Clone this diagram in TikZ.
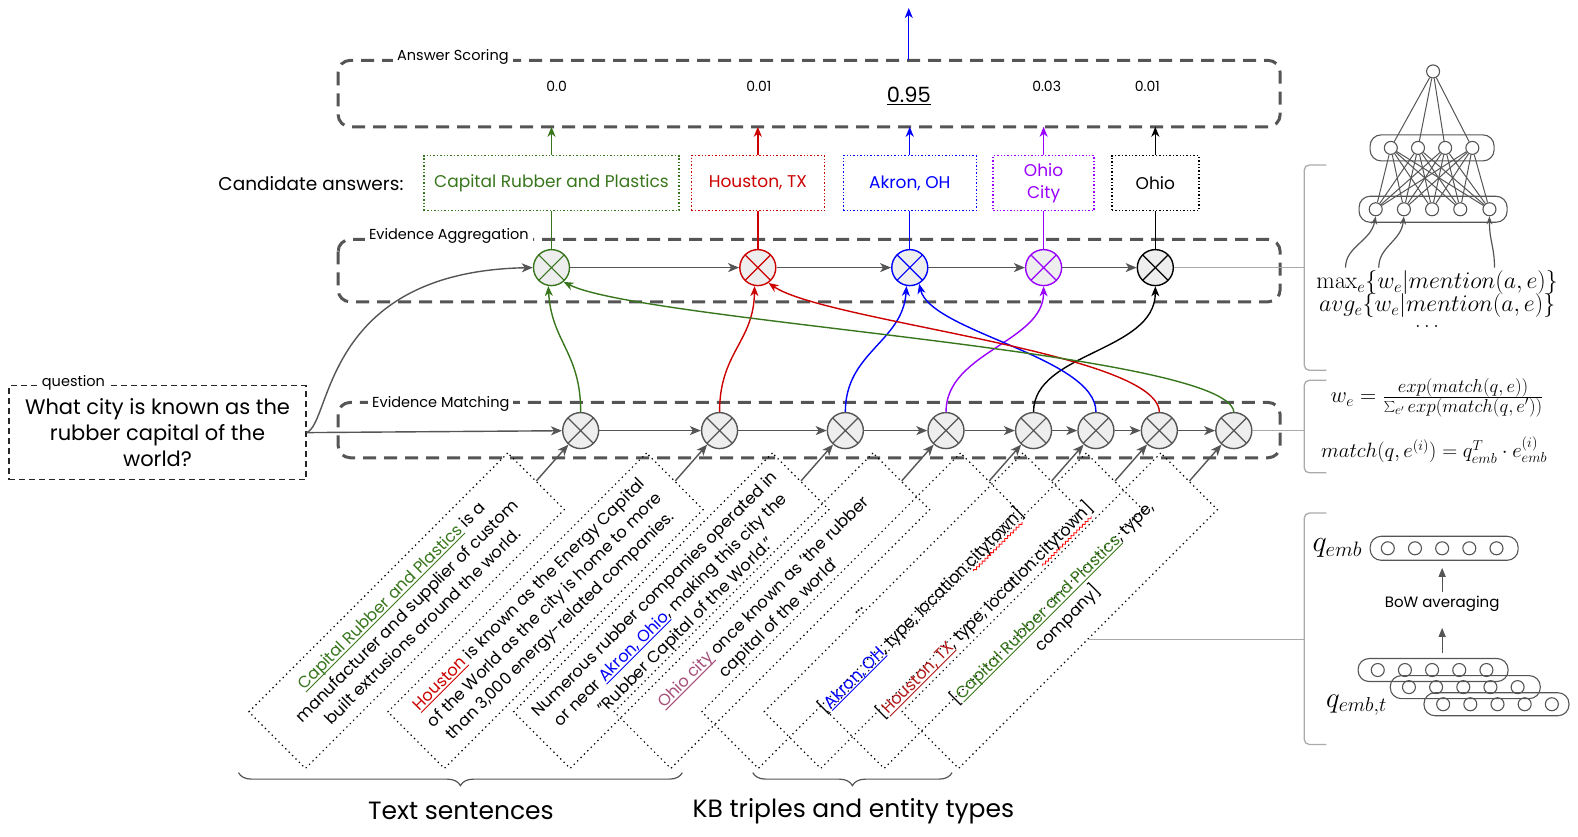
\documentclass[tikz,border=0pt]{standalone}
\usepackage[no-math]{fontspec}
\setmainfont{Poppins}
\usetikzlibrary{arrows.meta,calc,decorations.pathreplacing,decorations.pathmorphing}
\definecolor{cgreen}{HTML}{38761D}
\definecolor{cred}{HTML}{CC0000}
\definecolor{cdred}{HTML}{B01818}
\definecolor{cblue}{HTML}{0000FF}
\definecolor{cpurple}{HTML}{9900FF}
\definecolor{cmauve}{HTML}{A64D79}
\definecolor{dgray}{HTML}{555555}
\definecolor{lgray}{HTML}{AAAAAA}
\definecolor{cfill}{HTML}{EEEEEE}
\newsavebox{\ulbox}
\newcommand{\cul}[2]{{\color{#1}\sbox{\ulbox}{#2}\rlap{\rule[-2.6pt]{\wd\ulbox}{0.9pt}}\usebox{\ulbox}}}
\newsavebox{\wavebox}
\newcommand{\redwave}[1]{\sbox{\wavebox}{#1}\usebox{\wavebox}\llap{\begin{tikzpicture}[reset cm,x=1pt,y=1pt,baseline=0pt]\draw[red,solid,line width=0.8pt,decorate,decoration={snake,amplitude=1.1pt,segment length=4pt}] (0pt,-3.5pt) -- (\wd\wavebox,-3.5pt);\end{tikzpicture}}}
\newcommand{\fr}[1]{\mbox{\fontsize{17}{20}\selectfont$#1$}}
\begin{document}
\begin{tikzpicture}[x=1.00638pt,y=-1.00602pt,
  bigbox/.style={draw=dgray,line width=3pt,dash pattern=on 13pt off 8pt,rounded corners=12pt},
  boxlabel/.style={fill=white,inner sep=4pt,font=\fontsize{14.5}{17}\selectfont},
  xc/.style={circle,draw=#1,fill=cfill,line width=1.4pt,minimum size=36pt,inner sep=0pt,
    path picture={\draw[#1,line width=1.2pt]
      ($(path picture bounding box.center)+(45:18pt)$) -- ($(path picture bounding box.center)+(225:18pt)$)
      ($(path picture bounding box.center)+(135:18pt)$) -- ($(path picture bounding box.center)+(315:18pt)$);}},
  garrow/.style={draw=dgray,line width=1.4pt,-{Stealth[length=11pt,width=9pt,inset=3pt]}},
  carrow/.style={draw=#1,line width=1.4pt,-{Stealth[length=10pt,width=8pt,inset=3pt]}},
  cline/.style={draw=#1,line width=1.4pt},
  cand/.style={draw=#1,text=#1,dotted,line width=1.4pt,minimum height=55pt,inner sep=3pt,align=center,font=\fontsize{17}{22}\selectfont},
  score/.style={font=\fontsize{14}{16}\selectfont},
  rbox/.style={draw=black,dash pattern=on 1.3pt off 3.5pt,line width=1.2pt,rotate=45,anchor=east,minimum width=366pt,minimum height=80pt,inner sep=0pt,align=center,font=\fontsize{16.3}{22}\selectfont},
  brk/.style={draw=lgray,line width=1.3pt,rounded corners=5pt},
  nn/.style={circle,draw=dgray,line width=1.1pt,minimum size=13pt,inner sep=0pt},
  pill/.style={draw=dgray,line width=1.1pt,rounded corners=11pt,inner sep=0pt},
  nline/.style={draw=dgray,line width=1pt},
  narrow/.style={draw=dgray,line width=1.2pt,-{Stealth[length=8pt,width=6pt,inset=2pt]}},
  barrow/.style={draw=dgray,line width=1.3pt,-{Triangle[length=9pt,width=7pt]}},
  bracestyle/.style={draw=dgray,line width=1.2pt,decorate,decoration={brace,mirror,amplitude=13pt}},
  fml/.style={font=\fontsize{20}{24}\selectfont},
]
\useasboundingbox (0,0) rectangle (1568,831);
% ---------- dashed stage boxes
\draw[bigbox] (336,60) rectangle (1272,126);
\draw[bigbox] (336,238) rectangle (1272,300);
\draw[bigbox] (336,400) rectangle (1272,455);
\node[boxlabel] (lAS) at (450,57) {Answer Scoring};
\node[boxlabel] (lEA) at (446,235) {Evidence Aggregation};
\node[boxlabel] (lEM) at (438,402) {Evidence Matching};
\coordinate (asb) at (0,126);
\coordinate (ast) at (903,60);
\coordinate (out) at (903,8);
% ---------- scores
\node[score] (s1) at (553,86) {0.0};
\node[score] (s2) at (754,86) {0.01};
\node[font=\fontsize{21}{24}\selectfont] (s3) at (903,95) {\cul{black}{0.95}};
\node[score] (s4) at (1040,86) {0.03};
\node[score] (s5) at (1140,86) {0.01};
\draw[carrow=cblue] (ast) -- (out);
% ---------- candidates
\node[font=\fontsize{18.5}{22}\selectfont] (cl) at (309,182) {Candidate answers:};
\node[cand=cgreen,minimum width=255pt] (c1) at (548,182) {Capital Rubber and Plastics};
\node[cand=cred,minimum width=133pt] (c2) at (753,182) {Houston, TX};
\node[cand=cblue,minimum width=133pt] (c3) at (904,182) {Akron, OH};
\node[cand=cpurple,minimum width=101pt] (c4) at (1037,182) {Ohio\\City};
\node[cand=black,minimum width=87pt] (c5) at (1148,182) {Ohio};
% ---------- aggregation circles
\node[xc=cgreen] (a1) at (548,266) {};
\node[xc=cred] (a2) at (753,266) {};
\node[xc=cblue] (a3) at (904,266) {};
\node[xc=cpurple] (a4) at (1037,266) {};
\node[xc=black] (a5) at (1148,266) {};
\foreach \i/\c in {1/cgreen,2/cred,3/cblue,4/cpurple,5/black}{
  \draw[carrow=\c] (c\i.north) -- (c\i.north |- asb);
  \draw[cline=\c] (c\i.south) -- (a\i.north);
}
\draw[garrow] (a1) -- (a2);
\draw[garrow] (a2) -- (a3);
\draw[garrow] (a3) -- (a4);
\draw[garrow] (a4) -- (a5);
\coordinate (br1) at (1296,266);
\draw[draw=lgray,line width=1.3pt] (a5) -- (br1);
% ---------- matching circles
\node[xc=dgray] (m1) at (577,428) {};
\node[xc=dgray] (m2) at (715,428) {};
\node[xc=dgray] (m3) at (840,428) {};
\node[xc=dgray] (m4) at (940,428) {};
\node[xc=dgray] (m5) at (1027,428) {};
\node[xc=dgray] (m6) at (1089,428) {};
\node[xc=dgray] (m7) at (1152,428) {};
\node[xc=dgray] (m8) at (1226,428) {};
\foreach \i/\j in {1/2,2/3,3/4,4/5,5/6,6/7,7/8}{\draw[garrow] (m\i) -- (m\j);}
\coordinate (br2) at (1296,428);
\draw[draw=lgray,line width=1.3pt] (m8) -- (br2);
% ---------- question
\node[draw=black!85,dash pattern=on 6pt off 4pt,line width=1.3pt,minimum width=297pt,minimum height=94pt,align=center,font=\fontsize{21}{26}\selectfont] (q) at (156.5,430) {What city is known as the\\rubber capital of the\\world?};
\node[boxlabel] (lq) at (73,381) {question};
\draw[garrow] (q.east) -- (m1);
\draw[garrow] (q.east) .. controls (330,420) and (320,270) .. (a1.west);
% ---------- evidence boxes (rotated)
\node[rbox] (b1) at (533,478) {\cul{cgreen}{Capital Rubber and Plastics} is a\\manufacturer and supplier of custom\\built extrusions around the world.};
\node[rbox] (b2) at (671,478) {\cul{cred}{Houston} is known as the Energy Capital\\of the World as the city is home to more\\than 3,000 energy-related companies.};
\node[rbox] (b3) at (796,478) {Numerous rubber companies operated in\\or near \cul{cblue}{Akron, Ohio}, making this city the\\"Rubber Capital of the World."};
\node[rbox] (b4) at (896,478) {\cul{cmauve}{Ohio city} once known as 'the rubber\\capital of the world'};
\node[rbox] (b5) at (983,478) {...};
\node[rbox] (b6) at (1045,478) {[\cul{cblue}{Akron, OH}, type, location.\redwave{citytown}]};
\node[rbox] (b7) at (1108,478) {[\cul{cdred}{Houston, TX}, type, location.\redwave{citytown}]};
\node[rbox] (b8) at (1182,478) {[\cul{cgreen}{Capital Rubber and Plastics}, type,\\company]};
\foreach \i in {1,...,8}{\draw[garrow] (b\i.east) -- (m\i);}
% ---------- matching -> aggregation curves
\draw[carrow=cgreen] (m1.north) .. controls (577,350) and (548,340) .. (a1.-100);
\draw[carrow=cred] (m2.north) .. controls (715,350) and (749,340) .. (a2.-100);
\draw[carrow=cblue] (m3.north) .. controls (840,350) and (897,340) .. (a3.-100);
\draw[carrow=cpurple] (m4.north) .. controls (940,350) and (1037,340) .. (a4.south);
\draw[carrow=black] (m5.north) .. controls (1027,350) and (1148,350) .. (a5.south);
\draw[carrow=cblue] (m6.north) .. controls (1089,355) and (925,330) .. (a3.-60);
\draw[carrow=cred] (m7.north) .. controls (1150,350) and (820,320) .. (a2.-55);
\draw[carrow=cgreen] (m8.north) .. controls (1220,350) and (640,320) .. (a1.-50);
% ---------- brackets
\draw[brk] (1318,164) -- (1296,164) -- (1296,368) -- (1318,368);
\draw[brk] (1318,378) -- (1296,378) -- (1296,470) -- (1318,470);
\draw[brk] (1318,510) -- (1296,510) -- (1296,740) -- (1318,740);
\coordinate (br3) at (1296,627);
\draw[draw=lgray,line width=1.3pt] (b8.south) -- (b8.south -| br3);
% ---------- neural net
\node[nn] (t0) at (1424,71) {};
\node[pill,minimum width=124pt,minimum height=26pt] (up) at (1423,147) {};
\node[pill,minimum width=148pt,minimum height=26pt] (lo) at (1424,208) {};
\node[nn] (u1) at (1382,147) {};
\node[nn] (u2) at (1409,147) {};
\node[nn] (u3) at (1436,147) {};
\node[nn] (u4) at (1463,147) {};
\node[nn] (l1) at (1367,208) {};
\node[nn] (l2) at (1395,208) {};
\node[nn] (l3) at (1423,208) {};
\node[nn] (l4) at (1451,208) {};
\node[nn] (l5) at (1480,208) {};
\foreach \i in {1,...,4}{\draw[nline] (t0) -- (u\i);}
\foreach \i in {1,...,4}{\foreach \j in {1,...,5}{\draw[nline] (u\i) -- (l\j);}}
\node[fml,scale=1.15] (f1) at (1428,281) {$\max_e\{w_e|mention(a,e)\}$};
\node[fml,scale=1.15] (f2) at (1428,304) {$avg_e\{w_e|mention(a,e)\}$};
\node[fml] (f3) at (1418,325) {$\ldots$};
\coordinate (na1) at (1337,266);
\coordinate (na2) at (1370,266);
\coordinate (na3) at (1485,266);
\draw[narrow] (na1) .. controls (1337,245) and (1362,240) .. (l1.south);
\draw[narrow] (na2) .. controls (1370,245) and (1392,240) .. (l2.south);
\draw[narrow] (na3) .. controls (1485,245) and (1480,240) .. (l5.south);
% ---------- formulas
\node[fml,scale=1.08] (f4) at (1428,395) {$w_e = \frac{\fr{exp(match(q,e))}}{\fr{\sum_{e'} exp(match(q,e'))}}$};
\node[fml] (f5) at (1425,447) {$match(q,e^{(i)}) = q_{emb}^T\cdot e_{emb}^{(i)}$};
% ---------- BoW
\node[font=\fontsize{20}{24}\selectfont,scale=1.45] (qe) at (1329,545) {$q_{emb}$};
\node[pill,minimum width=148pt,minimum height=24pt] (pq) at (1435,545) {};
\foreach \k in {0,...,4}{\node[nn] (pq\k) at (1379+27*\k,545) {};}
\node[font=\fontsize{15}{18}\selectfont] (bow) at (1433,600) {BoW averaging};
\node[pill,minimum width=150pt,minimum height=23pt] (pA) at (1424,666) {};
\node[pill,minimum width=150pt,minimum height=23pt] (pB) at (1456,683) {};
\node[pill,minimum width=145pt,minimum height=23pt] (pC) at (1487,700) {};
\foreach \k in {0,...,4}{\node[nn] (pa\k) at (1369+27*\k,666) {};}
\foreach \k in {0,...,4}{\node[nn] (pb\k) at (1400+27*\k,683) {};}
\foreach \k in {0,...,4}{\node[nn] (pc\k) at (1434+27*\k,700) {};}
\node[font=\fontsize{20}{24}\selectfont,scale=1.4] (qet) at (1348,701) {$q_{emb,t}$};
\draw[barrow,shorten >=7pt] (bow.north) -- (bow.north |- pq.south);
\draw[barrow,shorten <=5pt,shorten >=13pt] (bow.south |- pA.north) -- (bow.south);
% ---------- braces
\coordinate (tsL) at (237,768);
\coordinate (tsR) at (678,768);
\coordinate (kbL) at (748,768);
\coordinate (kbR) at (946,768);
\draw[bracestyle] (tsL) -- (tsR);
\draw[bracestyle] (kbL) -- (kbR);
\node[font=\fontsize{25}{30}\selectfont] (ts) at (458,806) {Text sentences};
\node[font=\fontsize{25}{30}\selectfont] (kb) at (848,806) {KB triples and entity types};
\end{tikzpicture}
\end{document}
